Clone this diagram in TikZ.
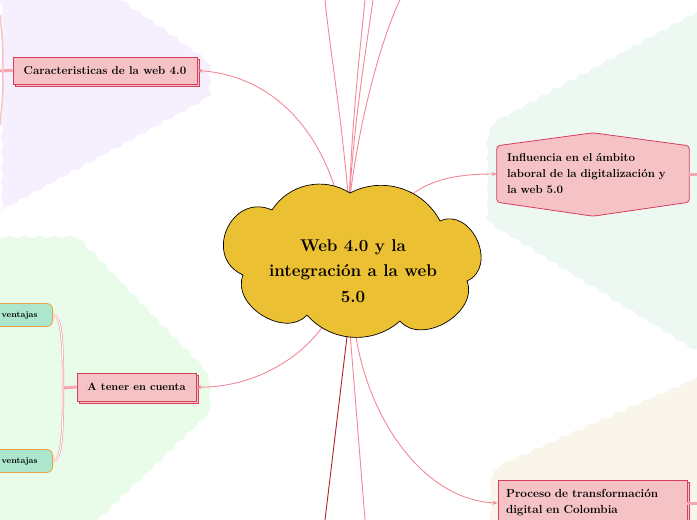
\documentclass[tikz,border=0pt]{standalone}
\usepackage{tikz}
\usetikzlibrary{calc,shadows,decorations.pathmorphing,arrows.meta}
\definecolor{cloudfill}{RGB}{236,192,51}
\definecolor{boxfill}{RGB}{245,195,198}
\definecolor{boxline}{RGB}{214,62,90}
\definecolor{linkpink}{RGB}{242,135,152}
\definecolor{linkdark}{RGB}{178,32,44}
\definecolor{ventfill}{RGB}{172,230,204}
\definecolor{ventline}{RGB}{232,160,64}
\definecolor{bglilac}{RGB}{246,239,253}
\definecolor{bggreen}{RGB}{233,251,233}
\definecolor{bgmint}{RGB}{238,248,243}
\definecolor{bgcream}{RGB}{249,245,234}
\tikzset{wavy/.style={decorate,decoration={snake,amplitude=1.3pt,segment length=15pt}},
  topic/.style={draw=boxline,fill=boxfill,line width=0.8pt,copy shadow={shadow xshift=2pt,shadow yshift=-2pt}},
  link/.style={draw=linkpink,line width=0.9pt},
  linkarrow/.style={link,-{Stealth[length=5pt,width=4pt]}},
  stub/.style={draw=linkpink!75,line width=3pt},
  branch/.style={draw=linkpink!85,line width=0.6pt,double=white,double distance=1pt},
  vent/.style={draw=ventline,fill=ventfill,line width=0.8pt,rounded corners=6pt,minimum height=23pt,
    inner xsep=15pt,font=\bfseries\fontsize{8.5}{11}\selectfont}}

\begin{document}
\begin{tikzpicture}[x=1pt,y=-1pt]
	\useasboundingbox (0,0) rectangle (697,520);
	\clip (0,0) rectangle (697,520);
	% backgrounds
	\fill[bglilac,wavy] (-10,-10) -- (105,-10) -- (200,57) -- (205,66) -- (205,92) -- (195,100) -- (-10,212) -- cycle;
	\fill[bggreen,wavy] (-10,237) -- (72,237) -- (200,370) -- (205,380) -- (205,410) -- (195,420) -- (80,530) -- (-10,530) -- cycle;
	\fill[bgmint,wavy] (710,5) -- (498,120) -- (493,130) -- (493,215) -- (500,225) -- (710,355) -- cycle;
	\fill[bgcream,wavy] (710,372) -- (500,465) -- (493,475) -- (493,530) -- (710,530) -- cycle;
	% topics
	\node[topic,minimum width=184pt,minimum height=27pt,font=\bfseries\fontsize{11.5}{14}\selectfont] (carac) at (105,70.5)
		{Caracteristicas de la web 4.0};
	\node[topic,minimum width=119pt,minimum height=28pt,font=\bfseries\fontsize{10.8}{14}\selectfont] (tener) at (136.5,387)
		{A tener en cuenta};
	\node[topic,minimum width=189pt,minimum height=46pt,text width=173pt,inner xsep=8pt,align=left,
		font=\bfseries\fontsize{11.7}{16}\selectfont] (proc) at (592.5,503)
		{Proceso de transformación\\digital en Colombia};
	\node[minimum width=192pt,minimum height=56pt] (infl) at (593,174) {};
	\draw[boxline,fill=boxfill,line width=0.8pt,rounded corners=3pt] (infl.north west) -- ($(infl.north)+(0,-13)$)
		-- (infl.north east) -- (infl.south east) -- ($(infl.south)+(0,14)$) -- (infl.south west) -- cycle;
	\node[font=\bfseries\fontsize{11.5}{16}\selectfont,text width=172pt,align=left] (infltext) at (infl.center)
		{Influencia en el ámbito\\laboral de la digitalización y\\la web 5.0};
	% subtopics
	\node[vent,anchor=east] (vent1) at (53,315) {ventajas};
	\node[vent,anchor=east] (vent2) at (53,461) {ventajas};
	\coordinate (fork) at (63,388);
	\draw[stub] (tener.west) -- (fork);
	\draw[branch] (fork) .. controls +(0,-45) and +(9,0) .. (vent1.east);
	\draw[branch] (fork) .. controls +(0,45) and +(9,0) .. (vent2.east);
	% stubs off the page
	\coordinate (caracout) at (-5,71);
	\coordinate (inflout) at (705,174);
	\coordinate (procout) at (705,503);
	\draw[stub] (carac.west) -- (caracout);
	\draw[link,line width=1.5pt,linkpink!50] (0,15) .. controls (3,45) .. (3,71) .. controls (3,95) .. (0,125);
	\draw[stub] (infl.east) -- (inflout);
	\draw[stub] (proc.east) -- (procout);
	% connectors (start under the cloud)
	\coordinate (ctop) at (349,205);
	\coordinate (cbot) at (349,320);
	\draw[linkarrow] (340,205) .. controls (318,120) and (265,75) .. (carac.east);
	\draw[linkarrow] (400,205) .. controls (425,178) and (460,174) .. (infl.west);
	\draw[linkarrow] (330,315) .. controls (305,360) and (250,388) .. (tener.east);
	\draw[linkarrow] (354,320) .. controls (362,410) and (420,500) .. (proc.west);
	\coordinate (up1) at (325,0);
	\coordinate (up2) at (365,0);
	\coordinate (up3) at (373,0);
	\coordinate (up4) at (400,0);
	\draw[link] (ctop) .. controls (342,120) and (330,50) .. (up1);
	\draw[link] (ctop) .. controls (352,120) and (360,50) .. (up2);
	\draw[link] (ctop) .. controls (354,120) and (366,50) .. (up3);
	\draw[link] (ctop) .. controls (360,110) and (385,30) .. (up4);
	\coordinate (down1) at (325,520);
	\coordinate (down2) at (365,520);
	\draw[link,linkdark] (cbot) -- (down1);
	\draw[link] (cbot) -- (down2);
	% central idea
	\coordinate (ca) at (350,193);
	\coordinate (cg) at (440,221);
	\coordinate (cf) at (467,281);
	\coordinate (ce) at (400,321);
	\coordinate (cd) at (307,315);
	\coordinate (cc) at (243,275);
	\coordinate (cb) at (272,210);
	\draw[fill=cloudfill,line width=0.7pt] (ca) to[bend left=45] (cg) to[bend left=90,looseness=1.35] (cf)
		to[bend left=80,looseness=1.1] (ce) to[bend left=45] (cd) to[bend left=80,looseness=1.1] (cc)
		to[bend left=90,looseness=1.6] (cb) to[bend left=45] (ca) -- cycle;
	\node[font=\bfseries\fontsize{17}{25.5}\selectfont,align=center] (title) at (353,271)
		{Web 4.0 y la\\integración a la web\\5.0};
\end{tikzpicture}
\end{document}
